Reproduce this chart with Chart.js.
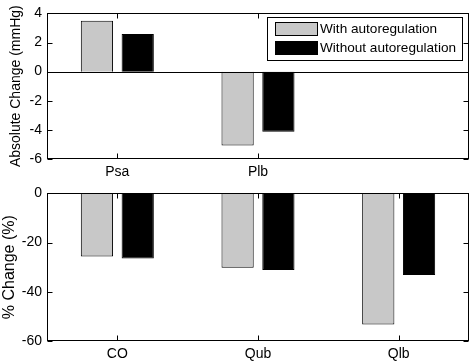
<!DOCTYPE html>
<html>
<head>
<meta charset="utf-8">
<script src="https://cdn.jsdelivr.net/npm/chart.js@4/dist/chart.umd.min.js"></script>
<style>
  html, body { margin: 0; padding: 0; background: #fff; }
  #wrap { position: relative; width: 474px; height: 361px; }
  canvas { position: absolute; left: 0; }
  #c1 { top: 0; }
  #c2 { top: 180px; }
</style>
</head>
<body>
<div id="wrap">
  <canvas id="c1" width="474" height="180"></canvas>
  <canvas id="c2" width="474" height="181"></canvas>
</div>
<script>
// ---- data ----
const seriesNames = ['With autoregulation', 'Without autoregulation'];
const topCategories = ['Psa', 'Plb', ''];
const topWith = [3.5, -5.08, null];
const topWithout = [2.58, -4.13, null];
const topYTicks = [-6, -4, -2, 0, 2, 4];

const botCategories = ['CO', 'Qub', 'Qlb'];
const botWith = [-25.6, -30.2, -53.3];
const botWithout = [-26.5, -31.1, -33.2];
const botYTicks = [-60, -40, -20, 0];

const greyColor = '#c8c8c8';
const FONT = 'Liberation Sans, Arial, sans-serif';

Chart.defaults.color = '#000';
Chart.defaults.font.family = FONT;
Chart.defaults.font.size = 14;

const frame = {
  id: 'frame',
  afterDraw(chart, args, opts) {
    const ctx = chart.ctx;
    const a = chart.chartArea;
    const L = Math.round(a.left) + 0.5, R = Math.round(a.right) - 0.5;
    const T = Math.round(a.top) + 0.5, B = Math.round(a.bottom) - 0.5;
    ctx.save();
    ctx.strokeStyle = '#000';
    ctx.lineWidth = 1;
    ctx.beginPath();
    if (opts.zeroLine) {
      const y0 = Math.round(chart.scales.y.getPixelForValue(0)) + 0.5;
      ctx.moveTo(L, y0); ctx.lineTo(R, y0);
    }
    chart.scales.y.ticks.forEach(t => {
      const y = Math.round(chart.scales.y.getPixelForValue(t.value)) + 0.5;
      ctx.moveTo(L, y); ctx.lineTo(L + 5, y);
      ctx.moveTo(R, y); ctx.lineTo(R - 5, y);
    });
    chart.data.labels.forEach((lab, i) => {
      if (!lab) return;
      const x = Math.round(chart.scales.x.getPixelForValue(i)) + 0.5;
      ctx.moveTo(x, B); ctx.lineTo(x, B - 5);
      ctx.moveTo(x, T); ctx.lineTo(x, T + 5);
    });
    ctx.stroke();
    ctx.strokeRect(L, T, R - L, B - T);

    if (opts.legend) {
      const lx = 267.5, ly = 17.5, lw = 195, lh = 43;
      ctx.fillStyle = '#fff';
      ctx.fillRect(lx, ly, lw, lh);
      ctx.strokeRect(lx, ly, lw, lh);
      const rows = [22, 41];
      chart.data.datasets.forEach((ds, i) => {
        ctx.fillStyle = ds.backgroundColor;
        ctx.fillRect(275.5, rows[i] + 0.5, 42, 13);
        ctx.strokeRect(275.5, rows[i] + 0.5, 42, 13);
        ctx.fillStyle = '#000';
        ctx.font = '13.6px ' + FONT;
        ctx.textBaseline = 'middle';
        ctx.textAlign = 'left';
        ctx.fillText(ds.label, 320, rows[i] + 7.5);
      });
    }
    ctx.restore();
  }
};

function makeChart(id, labels, d1, d2, yMin, yMax, yTicks, title, titleSize, titlePad, padTop, xHeight, zeroLine, legend) {
  return new Chart(document.getElementById(id), {
    type: 'bar',
    data: {
      labels: labels,
      datasets: [
        { label: seriesNames[0], data: d1, backgroundColor: greyColor, borderColor: '#000', borderWidth: 1,
          categoryPercentage: 0.58, barPercentage: 0.79 },
        { label: seriesNames[1], data: d2, backgroundColor: '#000', borderColor: '#000', borderWidth: 1,
          categoryPercentage: 0.58, barPercentage: 0.79 }
      ]
    },
    options: {
      responsive: false,
      devicePixelRatio: 1,
      animation: false,
      layout: { padding: { top: padTop, right: 5, left: 0, bottom: 0 } },
      plugins: {
        legend: { display: false },
        tooltip: { enabled: false },
        frame: { zeroLine: zeroLine, legend: legend }
      },
      scales: {
        x: {
          grid: { display: false, drawTicks: false },
          border: { display: false },
          ticks: { padding: 5, font: { size: 14 } },
          afterFit(s) { s.height = xHeight; }
        },
        y: {
          min: yMin, max: yMax,
          grid: { display: false, drawTicks: false },
          border: { display: false },
          afterBuildTicks(s) { s.ticks = yTicks.map(v => ({ value: v })); },
          ticks: { padding: 5, font: { size: 14 } },
          title: { display: true, text: title, font: { size: titleSize }, padding: { top: titlePad, bottom: 0 } },
          afterFit(s) { s.width = 47; }
        }
      }
    },
    plugins: [frame]
  });
}

makeChart('c1', topCategories, topWith, topWithout, -6, 4, topYTicks,
  'Absolute Change (mmHg)', 14, 8, 8, 21, true, true);
makeChart('c2', botCategories, botWith, botWithout, -60, 0, botYTicks,
  '% Change (%)', 16, 0, 12, 20, false, false);
</script>
</body>
</html>
